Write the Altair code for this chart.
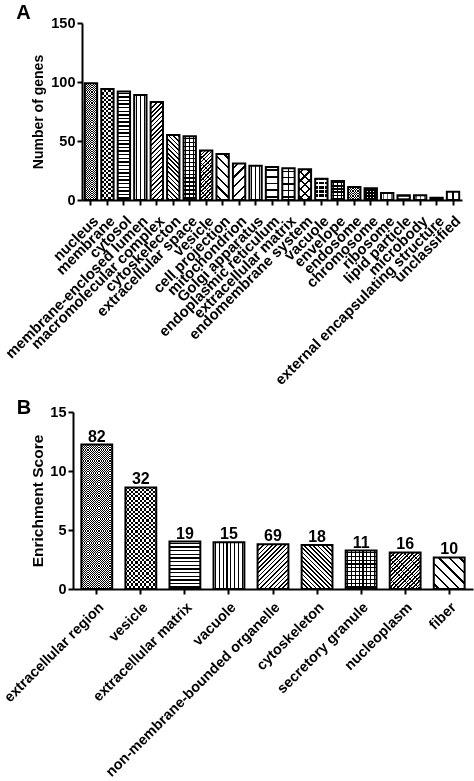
import math

import altair as alt
import pandas as pd

# ---- Panel A: GO cellular-component counts ----
comp_a = [
    "nucleus", "membrane", "cytosol", "membrane-enclosed lumen",
    "macromolecular complex", "cytoskelecton", "extracellular space", "vesicle",
    "cell projection", "mitochondrion", "Golgi apparatus", "endoplasmic reticulum",
    "extracellular matrix", "endomembrane system", "vacuole", "envelope",
    "endosome", "chromosome", "ribosome", "lipid particle", "microbody",
    "external encapsulating structure", "unclassified",
]
genes_a = [99, 94, 92, 89, 83, 55, 54, 42, 39, 31, 29, 28, 27, 26, 18, 16, 11, 10, 6, 4, 4, 2, 7]

# ---- Panel B: enriched cellular components ----
comp_b = [
    "extracellular region", "vesicle", "extracellular matrix", "vacuole",
    "non-membrane-bounded organelle", "cytoskeleton", "secretory granule",
    "nucleoplasm", "fiber",
]
score_b = [12.24, 8.61, 4.02, 3.97, 3.80, 3.72, 3.26, 3.10, 2.67]
genes_b = [82, 32, 19, 15, 69, 18, 11, 16, 10]

FONT = "Liberation Sans"
INK = "black"
PAPER = "white"
CLEAR = "rgba(0,0,0,0)"


def hatch(kind, period, width, fg=INK, bg=PAPER, blend=None):
    return dict(kind=kind, period=period, width=width, fg=fg, bg=bg, blend=blend)


def checker(period):
    # horizontal bands, then vertical white bands inverted over them -> checkerboard
    return [hatch("h", period, period / 2),
            hatch("v", period, period / 2, fg=PAPER, bg=CLEAR, blend="difference")]


# Hatch fills (each entry is drawn as one or more stacked stripe layers)
STYLES = {
    "stipple": checker(2.2),
    "checker": checker(4.4),
    "hlines": [hatch("h", 3.6, 1.4)],
    "vlines": [hatch("v", 4, 1.1)],
    "fwd": [hatch("d1", 3.2, 1.2)],
    "back": [hatch("d2", 3.2, 1.2)],
    "grid": [hatch("h", 4, 1.2), hatch("v", 4, 1.2, bg=CLEAR)],
    "fwd_dense": [hatch("d1", 2.6, 1.1), hatch("d2", 5, 0.6, bg=CLEAR)],
    "back_wide": [hatch("d2", 7, 1.6)],
    "fwd_wide": [hatch("d1", 7, 1.6)],
    "vlines_wide": [hatch("v", 4.3, 1.7)],
    "hlines_wide": [hatch("h", 7, 2)],
    "plus": [hatch("h", 6.5, 1.6), hatch("v", 12, 1.6, bg=CLEAR)],
    "diamond": [hatch("d1", 6, 1.5), hatch("d2", 6, 1.5, bg=CLEAR)],
    "brick_dark": [hatch("h", 4, 1.2, fg=PAPER, bg=INK), hatch("v", 6, 1.2, fg=PAPER, bg=CLEAR)],
    "brick": [hatch("h", 3, 1.4), hatch("v", 4, 1, bg=CLEAR)],
    "dots": checker(2.6),
    "dots_dark": [hatch("h", 3, 2), hatch("v", 3, 2, bg=CLEAR)],
    "sparse": [hatch("v", 4, 1, fg="#666")],
    "sparse_h": [hatch("h", 3, 1, fg="#555")],
    "solid": [hatch("solid", 1, 1)],
    "center": [hatch("v", 12, 1.5)],
}
style_a = [
    "stipple", "checker", "hlines", "vlines", "fwd", "back", "grid", "fwd_dense",
    "back_wide", "fwd_wide", "vlines_wide", "hlines_wide", "plus", "diamond",
    "brick_dark", "brick", "dots", "dots_dark", "sparse", "sparse_h", "sparse",
    "solid", "center",
]
style_b = style_a[:9]


def stop(offset, color):
    return alt.GradientStop(offset=round(min(max(offset, 0), 1), 5), color=color)


def fill_for(spec, w, h):
    """Striped linear gradient sized to a bar of w x h pixels."""
    kind, period, width = spec["kind"], spec["period"], spec["width"]
    fg, bg = spec["fg"], spec["bg"]
    if kind == "solid":
        return fg
    if kind == "h":
        n = h / period
        ends = dict(x1=0, y1=0, x2=0, y2=1)
    elif kind == "v":
        n = w / period
        ends = dict(x1=0, y1=0, x2=1, y2=0)
    else:
        s = (w + h) / (w * w + h * h)
        n = (w + h) / (period * math.sqrt(2))
        if kind == "d1":
            ends = dict(x1=0, y1=0, x2=w * s, y2=h * s)
        else:
            ends = dict(x1=0, y1=1, x2=w * s, y2=1 - h * s)
    n = max(1, round(n))
    f = min(width / period, 0.95)
    stops = []
    for k in range(n):
        a, b = (k + 0.5 - f / 2) / n, (k + 0.5 + f / 2) / n
        stops += [stop(k / n, bg), stop(a, bg), stop(a, fg),
                  stop(b, fg), stop(b, bg), stop((k + 1) / n, bg)]
    return alt.LinearGradient(gradient="linear", stops=stops,
                              **{key: round(v, 5) for key, v in ends.items()})


AXIS_STYLE = dict(
    grid=False, labelColor=INK, labelFont=FONT, labelFontWeight="bold",
    titleColor=INK, titleFont=FONT, titleFontWeight="bold",
)

W, H = 474, 781


def panel(df, styles, xs, ys, ymax, pi, po, x_axis, y_axis, extra=()):
    names = list(df["comp"])
    n = len(names)
    step = (xs[1] - xs[0]) / (n - pi + 2 * po)
    bw = step * (1 - pi)
    ppu = (ys[0] - ys[1]) / ymax
    xscale = alt.Scale(domain=names, range=xs, paddingInner=pi, paddingOuter=po)
    yscale = alt.Scale(domain=[0, ymax], range=ys)
    x_enc = alt.X("comp:N", scale=xscale, axis=x_axis)
    y_enc = alt.Y("value:Q", scale=yscale, axis=y_axis)
    layers = []
    for name, val, key in zip(names, df["value"], styles):
        for spec in STYLES[key]:
            mark = dict(fill=fill_for(spec, bw, val * ppu), strokeWidth=0)
            if spec["blend"]:
                mark["blend"] = spec["blend"]
            layers.append(
                alt.Chart(df)
                .transform_filter(alt.FieldEqualPredicate(field="comp", equal=name))
                .mark_bar(**mark)
                .encode(x=x_enc, y=y_enc)
            )
    layers.append(
        alt.Chart(df)
        .mark_bar(fillOpacity=0, stroke=INK, strokeWidth=2)
        .encode(x=x_enc, y=y_enc)
    )
    for make in extra:
        layers.append(make(df, x_enc, y_enc))
    return alt.layer(*layers)


df_a = pd.DataFrame({"comp": comp_a, "value": genes_a})
df_b = pd.DataFrame({"comp": comp_b, "value": score_b, "genes": genes_b})

A_X, A_Y = [82, 462], [200, 23]
B_X, B_Y = [73, 473], [589, 412]

axis_xa = alt.Axis(orient="bottom", offset=A_Y[0] - H, title=None, labelAngle=-45,
                   labelFontSize=15, labelLimit=400, labelPadding=8,
                   labelOverlap=False, **AXIS_STYLE)
axis_ya = alt.Axis(orient="left", offset=-A_X[0], values=[0, 50, 100, 150],
                   title="Number of genes", titleFontSize=14, titleX=-39.5,
                   titleBaseline="alphabetic", labelFontSize=14.5, labelPadding=2,
                   **AXIS_STYLE)
axis_xb = alt.Axis(orient="bottom", offset=B_Y[0] - H, title=None, labelAngle=-45,
                   labelFontSize=14.5, labelLimit=400, labelPadding=6,
                   labelOverlap=False, **AXIS_STYLE)
axis_yb = alt.Axis(orient="left", offset=-B_X[0], values=[0, 5, 10, 15],
                   title="Enrichment Score", titleFontSize=15.5, titleX=-30.5,
                   titleBaseline="alphabetic", labelFontSize=14.5, labelPadding=2,
                   **AXIS_STYLE)


def count_labels(df, x_enc, y_enc):
    return (
        alt.Chart(df)
        .mark_text(dy=-3, baseline="alphabetic", font=FONT, fontSize=16,
                   fontWeight="bold", color=INK)
        .encode(x=x_enc, y=y_enc, text=alt.Text("genes:Q"))
    )


panel_a = panel(df_a, style_a, A_X, A_Y, 150, 0.25, 0.17, axis_xa, axis_ya)
panel_b = panel(df_b, style_b, B_X, B_Y, 15, 0.3, 0.19, axis_xb, axis_yb,
                extra=(count_labels,))

letters = [
    alt.Chart(pd.DataFrame({"tag": [tag]}))
    .mark_text(font=FONT, fontSize=20, fontWeight="bold", color=INK,
               align="center", baseline="alphabetic")
    .encode(x=alt.value(px), y=alt.value(py), text="tag:N")
    for tag, px, py in [("A", 23.5, 19), ("B", 24, 414)]
]

chart = (
    alt.layer(panel_a, panel_b, *letters)
    .resolve_scale(x="independent", y="independent")
    .resolve_axis(x="independent", y="independent")
    .properties(width=W, height=H, autosize="none", padding=0, background="white")
    .configure(font=FONT)
    .configure_axis(domainColor=INK, domainWidth=2, tickColor=INK, tickWidth=2,
                    tickSize=5)
    .configure_view(strokeWidth=0)
)

chart.save("out.html", embed_options={"renderer": "svg", "actions": False})
